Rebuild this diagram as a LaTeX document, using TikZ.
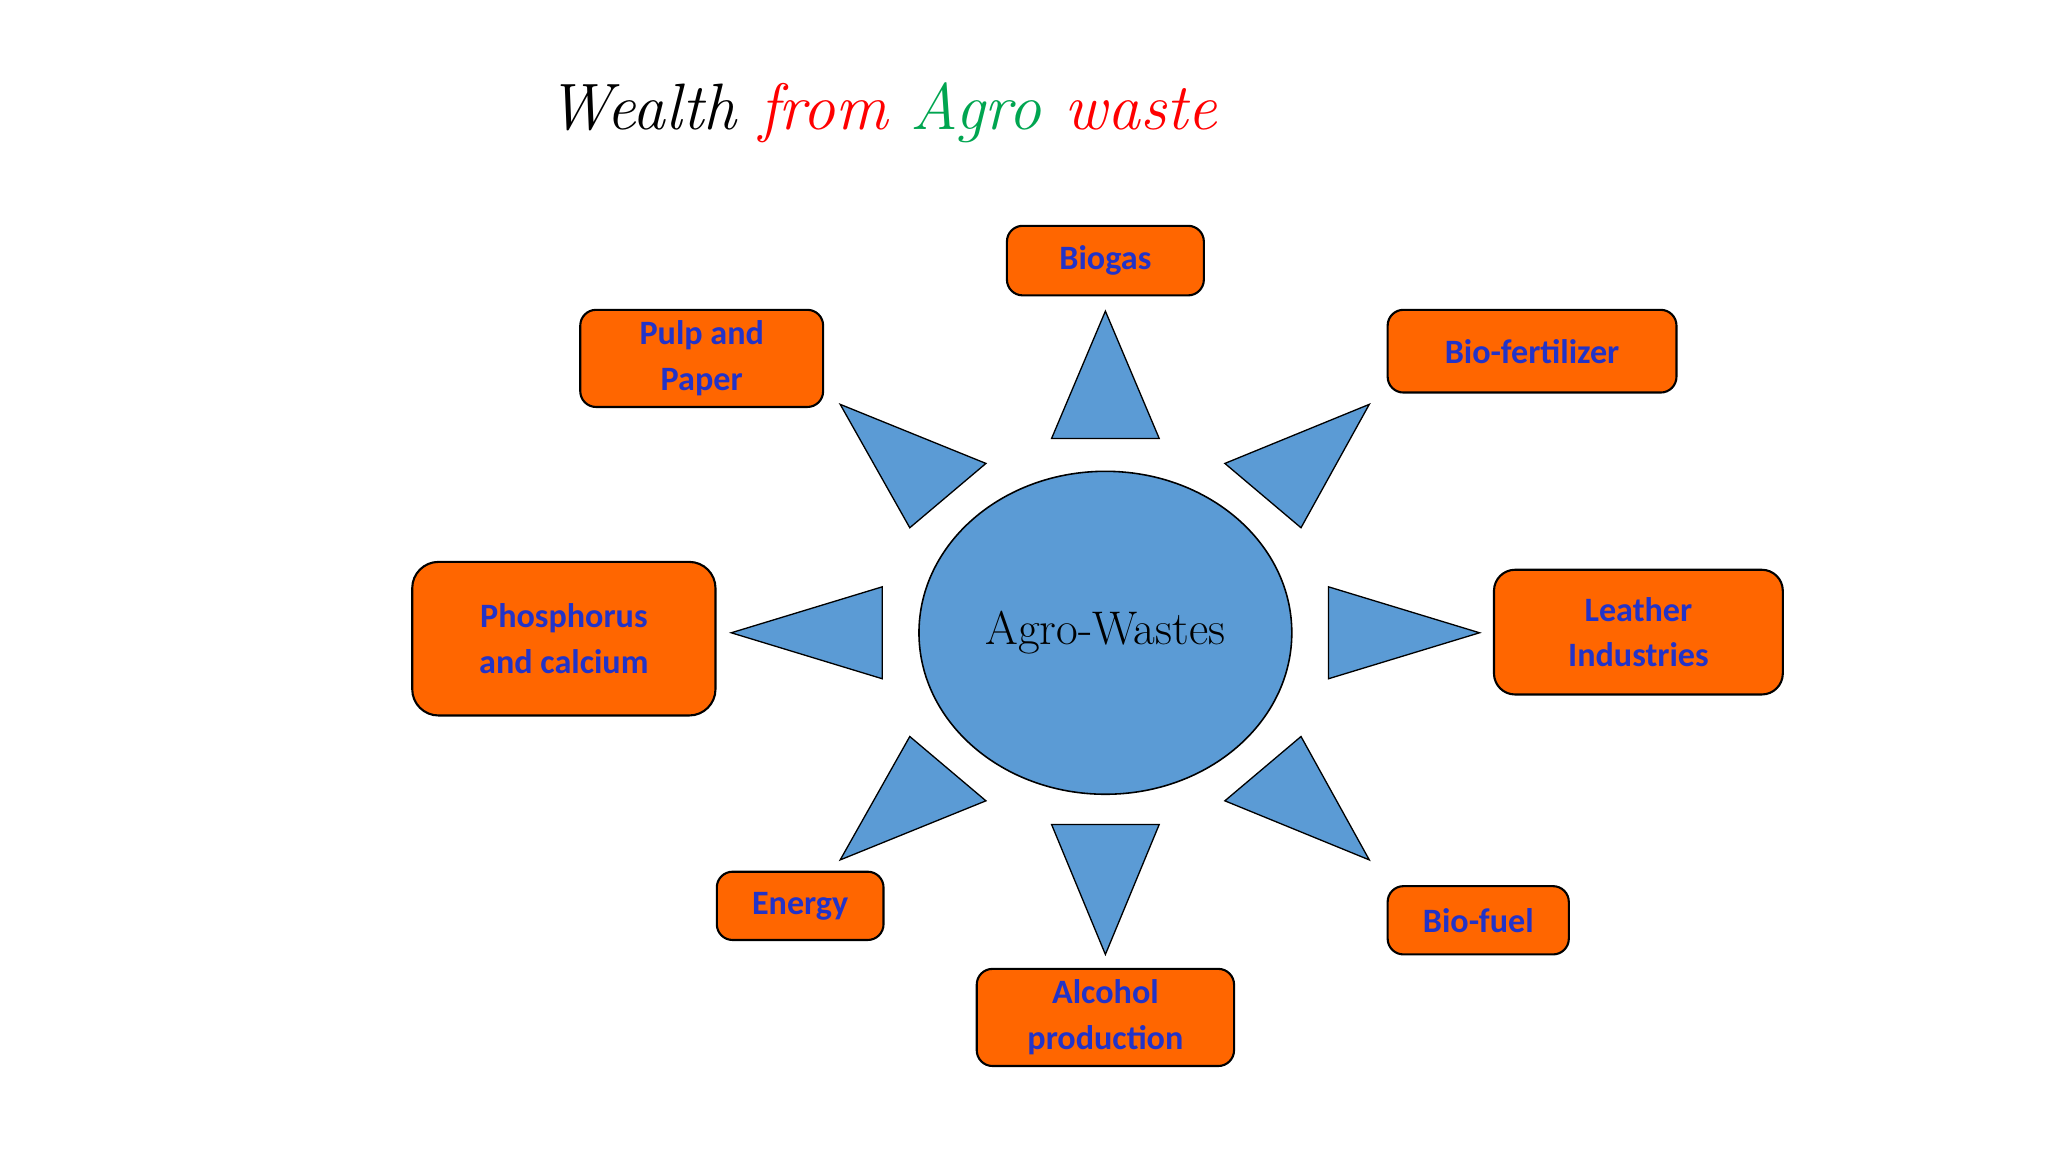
\documentclass[tikz,border=0pt]{standalone}
\usepackage{fontspec}
\setsansfont{Carlito}
\usetikzlibrary{shapes.geometric}
\begin{document}
\begin{tikzpicture}[x=0.5pt,y=-0.5pt]
\definecolor{tri}{HTML}{5B9BD5}
\definecolor{org}{HTML}{FF6600}
\definecolor{txt}{HTML}{2233C8}
\definecolor{grn}{HTML}{00A550}
\tikzset{
  box/.style={draw=black,line width=0.8pt,fill=org,rounded corners=6pt,inner sep=0pt,
    font=\sffamily\bfseries\fontsize{13}{17.5}\selectfont,text=txt,align=center},
  tr/.style={draw=black,line width=0.5pt,fill=tri}
}
\useasboundingbox (0,0) rectangle (1560,878);
\node (title) at (672,86) {\fontsize{25}{30}\selectfont\itshape Wealth \textcolor{red}{from} \textcolor{grn}{Agro} \textcolor{red}{waste}};
\node[ellipse,draw=black,line width=0.6pt,fill=tri,inner sep=0pt,minimum width=142pt,minimum height=123pt,font=\fontsize{18}{22}\selectfont] (c) at (842,482) {Agro-Wastes};
\draw[tr] (842,237) -- (801,334) -- (883,334) -- cycle;
\draw[tr] (842,727) -- (801,628) -- (883,628) -- cycle;
\draw[tr] (557,482) -- (672,447) -- (672,517) -- cycle;
\draw[tr] (1127,482) -- (1012,447) -- (1012,517) -- cycle;
\draw[tr] (640,308) -- (751,353) -- (693,402) -- cycle;
\draw[tr] (1043,308) -- (933,353) -- (991,402) -- cycle;
\draw[tr] (640,655) -- (693,561) -- (751,610) -- cycle;
\draw[tr] (1043,655) -- (991,561) -- (933,610) -- cycle;
\node[box,minimum width=75pt,minimum height=26.5pt] (b1) at (842,198.5) {Biogas};
\node[box,minimum width=92.5pt,minimum height=37pt] (b2) at (534.5,273) {Pulp and\\Paper};
\node[box,minimum width=110pt,minimum height=31.5pt] (b3) at (1167,267.5) {Bio-fertilizer};
\node[box,minimum width=115.5pt,minimum height=58.5pt,rounded corners=10pt] (b4) at (429.5,486.5) {Phosphorus\\and calcium};
\node[box,minimum width=110pt,minimum height=47.5pt,rounded corners=8pt] (b5) at (1248,481.5) {Leather\\Industries};
\node[box,minimum width=63.5pt,minimum height=26pt] (b6) at (609.5,690) {Energy};
\node[box,minimum width=98pt,minimum height=37pt] (b7) at (842,775) {Alcohol\\production};
\node[box,minimum width=69pt,minimum height=26pt] (b8) at (1126,701) {Bio-fuel};
\end{tikzpicture}
\end{document}
